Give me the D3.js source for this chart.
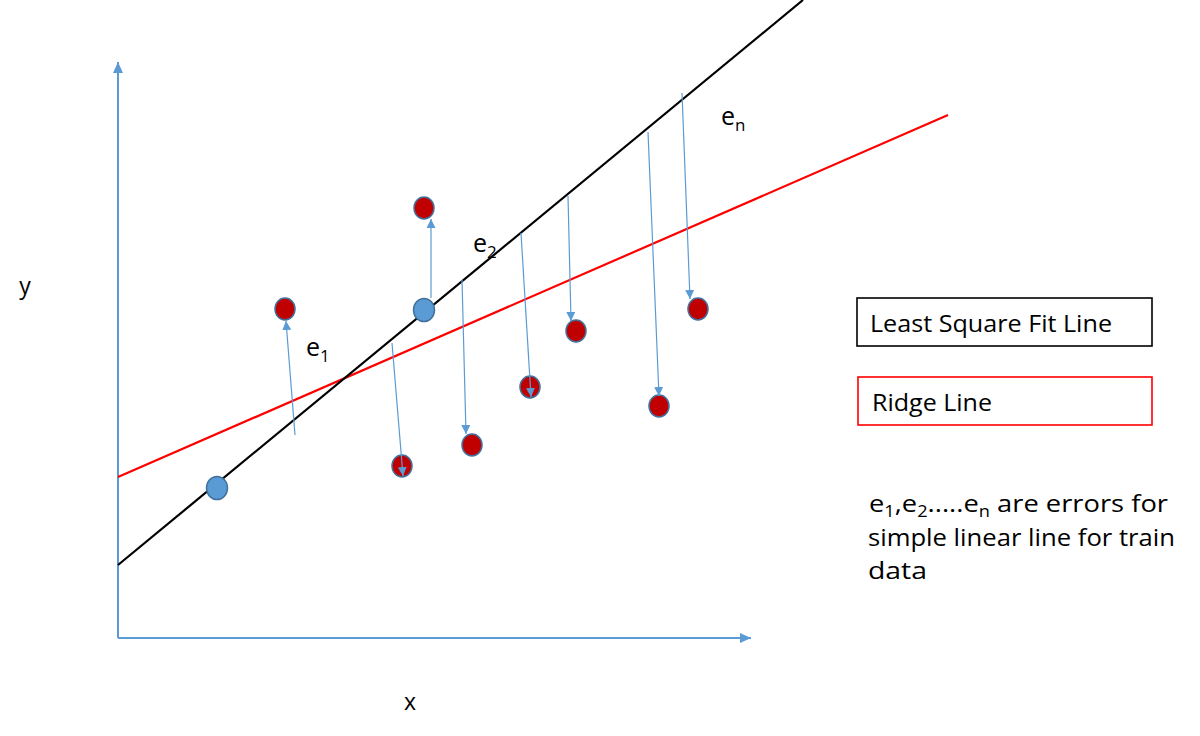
<!DOCTYPE html>
<html>
<head>
<meta charset="utf-8">
<script src="https://cdn.jsdelivr.net/npm/d3@7"></script>
<style>
body { margin: 0; background: #fff; }
svg { display: block; font-family: "Open Sans", "Noto Sans", sans-serif; }
.axis { stroke: #5B9BD5; stroke-width: 2; fill: none; }
.resid { stroke: #5B9BD5; stroke-width: 1.2; fill: none; }
.pt-red { fill: #C00000; stroke: #41719C; stroke-width: 1.5; }
.pt-blue { fill: #5B9BD5; stroke: #41719C; stroke-width: 1.5; }
text { fill: #000; }
</style>
</head>
<body>
<svg></svg>
<script>
// data, in units measured from the axis origin
var bluePoints = [[99, 150], [306, 328]];
var redPoints = [[167, 329], [306, 430], [284, 172], [354, 193], [412, 251],
                 [458, 307], [541, 232], [580, 329]];
// residual arrows: [x0, y0, x1, y1]
var residuals = [
  [177, 203, 168, 317],
  [313, 340, 313, 419],
  [274, 295, 285, 162],
  [344, 358, 348, 204],
  [403, 405, 413, 241],
  [450, 442, 453, 317],
  [530, 506, 541, 242],
  [564, 545, 572, 339]
];
var lsqLine = [[0, 73], [685, 638]];
var ridgeLine = [[0, 161], [830, 523]];
var errLabels = [["1", 188, 282], ["2", 355, 386], ["n", 603, 513]];
var legendItems = ["Least Square Fit Line", "Ridge Line"];
var noteLines = ["simple linear line for train", "data"];

var W = 1200, H = 736;
var svg = d3.select("svg").attr("width", W).attr("height", H);

var x = d3.scaleLinear().domain([0, 632]).range([118, 750]);
var y = d3.scaleLinear().domain([0, 576]).range([638, 62]);

var defs = svg.append("defs");
function marker(id, w, l) {
  defs.append("marker")
    .attr("id", id)
    .attr("markerUnits", "userSpaceOnUse")
    .attr("viewBox", "0 0 " + l + " " + w)
    .attr("refX", l).attr("refY", w / 2)
    .attr("markerWidth", l).attr("markerHeight", w)
    .attr("orient", "auto")
    .append("path")
    .attr("d", "M0,0L" + l + "," + (w / 2) + "L0," + w + "Z")
    .attr("fill", "#5B9BD5");
}
marker("ah-axis", 10, 11);
marker("ah-res", 9, 9);

// squeeze / stretch a text to the width seen in the picture
function fit(sel, w) {
  sel.attr("textLength", w).attr("lengthAdjust", "spacingAndGlyphs");
}

// axes
svg.append("line").attr("class", "axis")
  .attr("x1", x(0)).attr("y1", y(0)).attr("x2", x(0)).attr("y2", y(576))
  .attr("marker-end", "url(#ah-axis)");
svg.append("line").attr("class", "axis")
  .attr("x1", x(0)).attr("y1", y(0)).attr("x2", x(633)).attr("y2", y(0))
  .attr("marker-end", "url(#ah-axis)");

// fit lines
var line = d3.line().x(function(d) { return x(d[0]); }).y(function(d) { return y(d[1]); });
svg.append("path").attr("d", line(ridgeLine))
  .attr("stroke", "#FF0000").attr("stroke-width", 2.2).attr("fill", "none");
svg.append("path").attr("d", line(lsqLine))
  .attr("stroke", "#000").attr("stroke-width", 2.2).attr("fill", "none");

// points
svg.selectAll("ellipse.blue").data(bluePoints).enter().append("ellipse")
  .attr("class", "pt-blue")
  .attr("cx", function(d) { return x(d[0]); })
  .attr("cy", function(d) { return y(d[1]); })
  .attr("rx", 10.5).attr("ry", 11.5);
svg.selectAll("ellipse.red").data(redPoints).enter().append("ellipse")
  .attr("class", "pt-red")
  .attr("cx", function(d) { return x(d[0]); })
  .attr("cy", function(d) { return y(d[1]); })
  .attr("rx", 10).attr("ry", 11);

// residual arrows
svg.selectAll("line.resid").data(residuals).enter().append("line")
  .attr("class", "resid")
  .attr("x1", function(d) { return x(d[0]); })
  .attr("y1", function(d) { return y(d[1]); })
  .attr("x2", function(d) { return x(d[2]); })
  .attr("y2", function(d) { return y(d[3]); })
  .attr("marker-end", "url(#ah-res)");

// e labels
errLabels.forEach(function(d) {
  var t = svg.append("text").attr("x", x(d[1])).attr("y", y(d[2]))
    .attr("font-size", 25);
  t.append("tspan").text("e");
  t.append("tspan").attr("dy", 6).attr("font-size", 17).text(d[0]);
});

// axis titles
svg.append("text").attr("x", 25).attr("y", 294).attr("text-anchor", "middle")
  .attr("font-size", 23).text("y");
svg.append("text").attr("x", 410).attr("y", 710).attr("text-anchor", "middle")
  .attr("font-size", 23).text("x");

// legend boxes
var boxColors = ["#000", "#FF0000"];
var legendWidths = [242, 120];
legendItems.forEach(function(s, i) {
  var top = 298 + i * 79;
  svg.append("rect").attr("x", 857 + i).attr("y", top)
    .attr("width", 295 - i).attr("height", 48)
    .attr("fill", "none").attr("stroke", boxColors[i]).attr("stroke-width", 1.6);
  var t = svg.append("text").attr("x", 870 + i * 2).attr("y", top + 34)
    .attr("font-size", 24).text(s);
  fit(t, legendWidths[i]);
});

// note text
var n1 = svg.append("text").attr("x", 869).attr("y", 512).attr("font-size", 24);
n1.append("tspan").text("e");
n1.append("tspan").attr("dy", 5).attr("font-size", 16).text("1");
n1.append("tspan").attr("dy", -5).text(",e");
n1.append("tspan").attr("dy", 5).attr("font-size", 16).text("2");
n1.append("tspan").attr("dy", -5).text(".....e");
n1.append("tspan").attr("dy", 5).attr("font-size", 16).text("n");
n1.append("tspan").attr("dy", -5).text(" are errors for");
fit(n1, 299);
var noteWidths = [307, 59];
noteLines.forEach(function(s, i) {
  var t = svg.append("text").attr("x", 868).attr("y", 546 + i * 33)
    .attr("font-size", 24).text(s);
  fit(t, noteWidths[i]);
});
</script>
</body>
</html>
